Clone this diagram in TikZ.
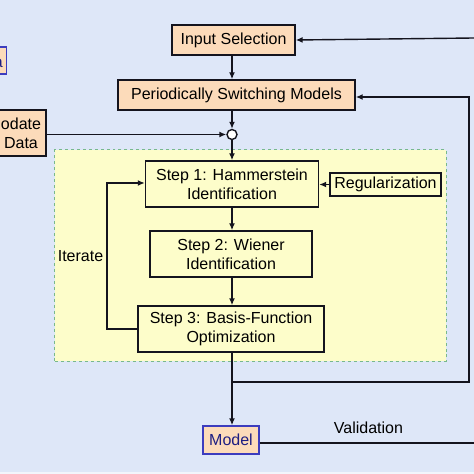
\documentclass[tikz,border=0pt]{standalone}
\usepackage{fontspec}
\setmainfont{Liberation Sans}
\usetikzlibrary{arrows.meta}
\definecolor{bgblue}{RGB}{222,231,248}
\definecolor{peach}{RGB}{252,219,186}
\definecolor{lyellow}{RGB}{253,253,202}
\definecolor{dgreen}{RGB}{120,185,140}
\definecolor{mblue}{RGB}{60,60,190}
\definecolor{dblue}{RGB}{30,30,130}
\definecolor{dline}{RGB}{20,20,30}
\tikzset{
  every node/.style={font=\fontsize{16bp}{19bp}\selectfont, text=black},
  pbox/.style={draw=dline, line width=1.4bp, fill=peach, inner sep=0pt, align=center},
  ybox/.style={draw=dline, line width=1.4bp, fill=lyellow, inner sep=0pt, align=center},
  bbox/.style={draw=mblue, line width=1.4bp, fill=peach, inner sep=0pt, align=center, text=dblue},
  conn/.style={draw=dline, line width=1.4bp},
  arr/.style={conn, -{Latex[length=7bp,width=6bp]}},
}
\begin{document}
\begin{tikzpicture}[x=1bp,y=-1bp]
\useasboundingbox (0,0) rectangle (474,474);
\fill[bgblue] (0,0) rectangle (474,472);
\fill[white!60!bgblue] (0,472) rectangle (474,474);
% region
\node[draw=dgreen, dashed, line width=1bp, fill=lyellow, minimum width=391bp, minimum height=211bp, inner sep=0pt] (region) at (250.5,255.5) {};
% nodes
\node[bbox, minimum width=30bp, minimum height=27bp, anchor=east] (left) at (7,60.5) {};
\node[text=dblue, anchor=east, inner sep=0pt] (lefttxt) at (3,63) {a};
\node[pbox, minimum width=123bp, minimum height=30bp] (inputsel) at (233.5,40) {Input Selection};
\node[pbox, minimum width=237bp, minimum height=30bp] (psm) at (236.5,95) {Periodically Switching Models};
\node[draw=dline, line width=1.4bp, fill=white, circle, minimum size=10bp, inner sep=0pt] (sum) at (232,134.5) {};
\node[pbox, minimum width=50bp, minimum height=46bp] (acc) at (21,133) {odate\\Data};
\node[ybox, minimum width=173bp, minimum height=46bp] (step1) at (232,184) {Step 1: Hammerstein\\Identification};
\node[ybox, minimum width=111bp, minimum height=23bp] (reg) at (385.5,184.5) {Regularization};
\node[ybox, minimum width=162bp, minimum height=46bp] (step2) at (231,254) {Step 2: Wiener\\Identification};
\node[ybox, minimum width=186bp, minimum height=46bp] (step3) at (231,329) {Step 3: Basis-Function\\Optimization};
\node[bbox, minimum width=56bp, minimum height=28bp] (model) at (231,440) {Model};
\node (iterate) at (80.5,256) {Iterate};
\node (valid) at (368.5,428) {Validation};
% coordinates
\coordinate (inR) at (474,38);
\coordinate (fb) at (232,382);
\coordinate (fbR) at (469,382);
\coordinate (fbT) at (469,97);
\coordinate (itL) at (107,329);
\coordinate (itT) at (107,183);
\coordinate (valR) at (474,443);
% connectors
\draw[arr] (inR) -- (inputsel.east);
\draw[arr] (inputsel.south -| sum) -- (psm.north -| sum);
\draw[arr] (psm.south -| sum) -- (sum.north);
\draw[arr] (acc.east |- sum) -- (sum.west);
\draw[arr] (sum.south) -- (step1.north -| sum);
\draw[arr] (reg.west) -- (step1.east |- reg);
\draw[arr] (step1.south -| sum) -- (step2.north -| sum);
\draw[arr] (step2.south -| sum) -- (step3.north -| sum);
\draw[arr] (step3.south -| sum) -- (model.north -| sum);
\draw[arr] (step3.west) -- (itL) -- (itT) -- (step1.west |- itT);
\draw[arr] (fb) -- (fbR) -- (fbT) -- (psm.east |- fbT);
\draw[conn] (model.east |- valR) -- (valR);
\end{tikzpicture}
\end{document}
